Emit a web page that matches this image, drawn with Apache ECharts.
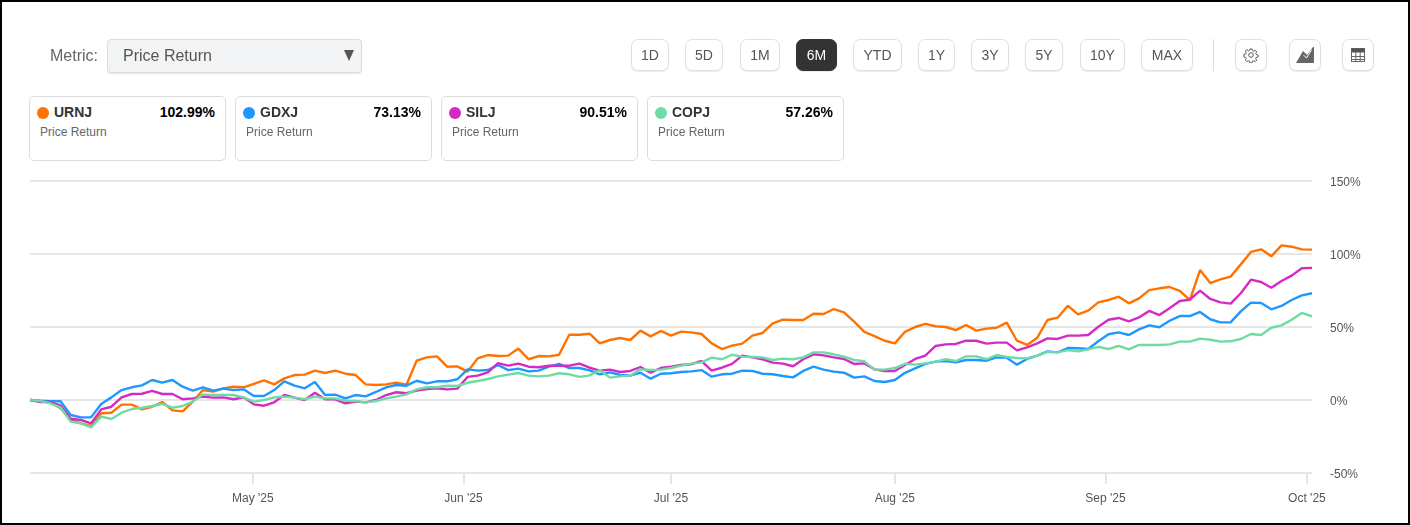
<!DOCTYPE html>
<html><head><meta charset="utf-8">
<script src="https://cdn.jsdelivr.net/npm/echarts@6/dist/echarts.min.js"></script>
<style>
html,body{margin:0;padding:0;background:#fff;overflow:hidden}
body{width:1410px;height:525px;position:relative;font-family:"Liberation Sans",Arial,sans-serif}
#frame{position:absolute;left:0;top:0;width:1410px;height:525px;box-sizing:border-box;border:2px solid #000;pointer-events:none;z-index:5}
#chart{position:absolute;left:0;top:0;width:1410px;height:525px}
.abs{position:absolute}
.btn{position:absolute;top:39px;height:32px;box-sizing:border-box;border:1px solid #e0e0e0;border-radius:7px;background:#fff;color:#555;font-size:14px;line-height:30px;text-align:center;box-shadow:0 1px 1px #ececec}
.btn.on{background:#333;color:#fff;border-color:#333;font-weight:normal}
.card{position:absolute;top:96px;width:197px;height:65px;box-sizing:border-box;border:1px solid #dcdcdc;border-radius:5px;background:#fff}
.dot{position:absolute;left:7px;top:10px;width:12px;height:12px;border-radius:50%}
.tk{position:absolute;left:24px;top:7px;font-size:14px;font-weight:bold;color:#333;line-height:17px}
.pc{position:absolute;right:10px;top:7px;font-size:14px;font-weight:bold;color:#000;line-height:17px}
.sub{position:absolute;left:10px;top:28px;font-size:12px;color:#666;line-height:14px}
</style></head><body>
<div id="chart"></div>
<div id="chrome"></div>
<div id="frame"></div>
<script>
const seriesNames = ['URNJ','GDXJ','SILJ','COPJ'];
const seriesColors = ['#ff7200','#1e97ff','#d42bc4','#6edba4'];
const seriesTotals = ['102.99%','73.13%','90.51%','57.26%'];
const rangeButtons = ['1D','5D','1M','6M','YTD','1Y','3Y','5Y','10Y','MAX'];
const tickLabels = ["May '25","Jun '25","Jul '25","Aug '25","Sep '25","Oct '25"];
const tickSessions = [21.9,42.6,63,85,105.7,125.5];
const urnj = [0,-0.7,-1.6,-5.7,-13.7,-16,-17.8,-9.1,-8.7,-3.2,-3.2,-6.4,-4.6,-1.4,-7.1,-7.8,-1.1,6.8,5.7,8,9.1,8.7,11,13.5,10.7,14.8,17.1,17.4,20.1,18.5,20.1,18,17.1,10.7,10.3,10.7,11.9,10.5,26.9,29.2,29.9,22.8,23,19.4,28.5,30.8,30.1,30.4,35.2,27.9,30.1,29.9,31,44.7,44.7,45.4,38.8,41.1,42.5,41.1,47.5,43.6,47.3,44.1,46.8,46.3,45.2,38.8,34.9,37.2,38.6,44.1,45.9,52.5,55,54.8,54.8,59.1,58.9,62.3,60,53.7,46.6,43.8,40.6,38.8,46.7,50,52.1,50.5,50,47.9,51.4,47.5,48.9,49.5,53,40.6,37.7,42.7,54.8,56.4,64.6,58.7,61.2,66.9,68.5,70.8,66.2,69.6,75.3,76.5,77.4,74.7,68.5,89,80.1,82.6,84.5,92.9,101.4,103.2,98.4,105.9,105,103.2,103];
const gdxj = [0,-0.5,-0.9,-0.9,-10.3,-11.9,-11.9,-2.7,1.8,6.8,8.7,10,13.7,11.9,13.7,9.1,6.4,8.7,6.4,7.8,6.8,7.3,2.7,2.7,6.8,12.8,9.8,8,12.3,3.4,3.7,1.1,3.4,2.5,5.5,8.7,10.3,9.8,13.2,11.4,12.8,12.8,14.2,21,20.1,20.5,24,20.5,21.5,19.6,20.1,22.8,24.7,21.9,21.9,20.3,17.6,18.9,17.1,16.7,18.7,14.6,18,18.3,19.2,19.6,20.5,16,17.6,18,20.1,19.9,18,17.6,16.4,15.5,19.9,22.8,20.8,19.4,18.7,15.3,16.2,13,12.3,13.7,18.6,21.7,24.7,26.3,26.7,25.8,27.4,27.4,26.9,29.2,29,24.2,28.1,30.4,33.3,32.6,35.6,35.4,34.9,40.2,45,46.3,44.5,48.4,51.1,49.8,54.3,57.5,57.5,60.3,55.3,53.2,53.2,60.7,66.7,66.4,62.1,64.4,68.5,71.7,73.1];
const silj = [0,-1.4,-1.4,-3.7,-12.8,-13.7,-16,-6.4,-4.6,1.8,4.1,4.3,6.2,4.1,4.1,0.5,1.1,2.3,1.6,1.8,0.5,1.8,-3,-3.9,-1.6,3.4,1.6,0,5,0.5,0.5,-2.3,-1.1,-1.6,0,3.4,5.3,4.6,6.4,7.5,8,7.3,7.8,15.8,16.7,18.9,25.3,23.5,24.9,22.8,22.4,23.5,23.5,23.5,24.9,22.1,20.1,20.8,19.2,19.9,22.6,18.7,21.9,22.8,24,24.5,26.7,20.1,22.1,24.7,30.4,29.2,27.9,25.6,24.9,23.1,27.9,31.3,30.6,29.2,28.1,24.7,25.1,21,19.9,19.9,24,28.1,30.4,37,38.1,38.4,40.6,40.6,38.6,39.3,39.3,34,36.1,38.8,42.2,41.8,44.1,44.1,44.5,50.2,55,56.2,53.9,56.6,61,58.2,62.8,67.8,68.7,74.9,69.2,66.9,66,73.1,82.4,80.8,76.9,81.5,85.2,90.2,90.5];
const copj = [0,-0.7,-2.3,-5,-14.8,-16,-18.7,-11.4,-13,-8.7,-6.2,-5.3,-4.1,-2.7,-5.3,-4.1,-1.1,3.7,3.4,3.4,3.4,1.8,-1.1,0,1.8,2.3,1.6,0.5,2.3,1.1,1.1,-0.5,-0.7,-1.6,-0.7,1.1,2.3,3.9,7.3,8.7,8.7,9.8,9.6,11.8,13,14.4,16.2,17.4,18.5,16.7,16.2,16.7,18.3,17.6,15.8,16.9,20.5,15.3,16.2,16.7,21,20.5,20.8,21.9,23.5,24.9,25.8,29,27.9,31,29.7,29.5,29.2,27.4,28.3,27.9,29.2,32.6,32.6,31.3,29.7,27.4,26.5,20.8,20.8,21.9,24.8,24.2,25.1,26.3,27.9,26.7,29.9,29.9,27.9,30.8,29.5,28.8,28.5,30.4,32.9,32.6,34.2,33.3,34.7,36.4,34.9,37.1,34.7,37.7,37.7,37.7,38.1,40,40,42,41.3,40,40.2,41.8,45.2,44.5,49.5,51.1,55,59.6,57.3];
const allValues = [urnj,gdxj,silj,copj];

const chrome = document.getElementById('chrome');
function add(html){chrome.insertAdjacentHTML('beforeend',html);}
add('<div class="abs" style="left:50px;top:47px;font-size:16px;line-height:18px;color:#666">Metric:</div>');
add('<div class="abs" style="left:107px;top:39px;width:255px;height:34px;box-sizing:border-box;background:#f2f3f5;border:1px solid #dcdcdc;border-radius:4px;box-shadow:0 1px 1px #e6e6e6"></div>');
add('<div class="abs" style="left:123px;top:47px;font-size:16px;line-height:18px;color:#555">Price Return</div>');
add('<div class="abs" style="left:344px;top:50px;width:0;height:0;border-left:5.5px solid transparent;border-right:5.5px solid transparent;border-top:11px solid #555"></div>');
const btnX = [[631,669],[685,723],[740,780],[796,837],[853,902],[918,955],[971,1009],[1025,1063],[1080,1125],[1141,1193]];
rangeButtons.forEach((t,i)=>add('<div class="btn'+(t==='6M'?' on':'')+'" style="left:'+btnX[i][0]+'px;width:'+(btnX[i][1]-btnX[i][0])+'px">'+t+'</div>'));
add('<div class="abs" style="left:1213px;top:39px;width:1px;height:32px;background:#dcdcdc"></div>');
const gear='<svg width="16" height="16" viewBox="-1 -1 18 18" style="margin-top:7px"><circle cx="8" cy="8" r="2.6" fill="none" stroke="#555" stroke-width="1.1"/><path d="M6.8 1.2h2.4l.4 2 1.4.6 1.7-1.1 1.7 1.7-1.1 1.7.6 1.4 2 .4v2.4l-2 .4-.6 1.4 1.1 1.7-1.7 1.7-1.7-1.1-1.4.6-.4 2H6.8l-.4-2-1.4-.6-1.7 1.1-1.7-1.7 1.1-1.7-.6-1.4-2-.4V7.1l2-.4.6-1.4-1.1-1.7 1.7-1.7L5 3.5l1.4-.6z" fill="none" stroke="#555" stroke-width="1.1"/></svg>';
const area='<svg width="18" height="16" viewBox="0 0 18 16" style="margin-top:7px"><path d="M0 16L7 4l4 4L17 0l1 0V16z" fill="#666"/><path d="M7.5 8l3 3L15.5 3" fill="none" stroke="#fff" stroke-width="1"/></svg>';
const table='<svg width="14" height="14" viewBox="0 0 14 14" style="margin-top:8px"><rect x="0.5" y="0.5" width="13" height="13" fill="#fff" stroke="#666"/><rect x="0.5" y="0.5" width="13" height="4" fill="#555"/><path d="M0 8.5h14M0 11.5h14M4.8 4v10M9.2 4v10" stroke="#666" fill="none"/></svg>';
[[1235,1267,gear],[1289,1321,area],[1342,1374,table]].forEach(b=>add('<div class="btn" style="left:'+b[0]+'px;width:'+(b[1]-b[0])+'px;line-height:0">'+b[2]+'</div>'));
const cardX=[29,235,441,647];
seriesNames.forEach((n,i)=>add('<div class="card" style="left:'+cardX[i]+'px"><div class="dot" style="background:'+seriesColors[i]+'"></div><div class="tk">'+n+'</div><div class="pc">'+seriesTotals[i]+'</div><div class="sub">Price Return</div></div>'));

const chart = echarts.init(document.getElementById('chart'),null,{renderer:'canvas'});
const sessions = urnj.map((_,i)=>i);
const labelFont = '"Liberation Sans",Arial,sans-serif';
chart.setOption({
  animation:false,
  grid:{left:30,right:98,top:181,bottom:52},
  xAxis:{type:'value',min:0,max:126,
    axisLine:{show:false,onZero:false},
    splitLine:{show:false},
    axisTick:{show:true,length:11,customValues:tickSessions,lineStyle:{color:'#e6e6e6',width:2}},
    axisLabel:{show:true,margin:20,color:'#555',fontSize:12,fontFamily:labelFont,
      customValues:tickSessions,
      formatter:v=>tickLabels[tickSessions.indexOf(v)]}
  },
  yAxis:{type:'value',position:'right',min:-50,max:150,interval:50,
    axisLine:{show:false},axisTick:{show:false},
    splitLine:{show:true,lineStyle:{color:'#e6e6e6',width:2}},
    axisLabel:{margin:18,align:'left',color:'#555',fontSize:12,fontFamily:labelFont,
      formatter:v=>'{t|'+v+'%}',
      rich:{t:{color:'#555',fontSize:12,fontFamily:labelFont,padding:[4,0,0,0]}}}
  },
  series:seriesNames.map((n,i)=>({
    name:n,type:'line',showSymbol:false,smooth:false,
    lineStyle:{color:seriesColors[i],width:2.4},
    itemStyle:{color:seriesColors[i]},
    data:allValues[i].map((v,j)=>[sessions[j],v])
  }))
});
</script>
</body></html>
